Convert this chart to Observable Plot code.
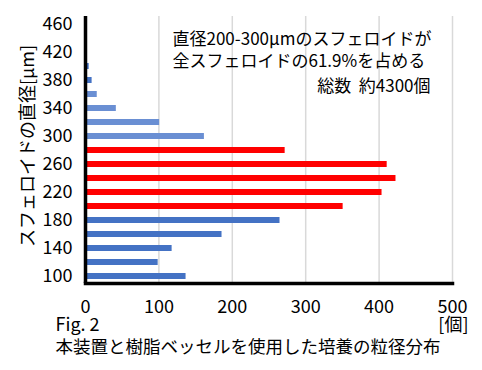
<!DOCTYPE html>
<html>
<head>
<meta charset="utf-8">
<script src="https://cdn.jsdelivr.net/npm/d3@7"></script>
<script src="https://cdn.jsdelivr.net/npm/@observablehq/plot@0.6"></script>
<style>
  html, body { margin: 0; padding: 0; background: #fff; }
</style>
</head>
<body>
<div id="chart"></div>
<script>
// Diameter classes (μm) – category axis 100..460 step 20
const diameters = [100,120,140,160,180,200,220,240,260,280,300,320,340,360,380,400,420,440,460];
// Counts per class
const counts     = [137, 99,118,186,265,351,404,423,411,272,162,101, 42, 16,  9,  5,  0,  0,  0];
// Highlight group: 200-300 μm
const highlighted = [200,220,240,260,280];
const lighter = [300,320,340,360];
const yTickLabels = [100,140,180,220,260,300,340,380,420,460];
const xTickLabels = [0,100,200,300,400,500];
const annotationLines = ["直径200-300μmのスフェロイドが", "全スフェロイドの61.9%を占める", "総数  約4300個"];
const yAxisTitle = "スフェロイドの直径[μm]";
const xUnit = "[個]";
const figLabel = "Fig. 2";
const caption = "本装置と樹脂ベッセルを使用した培養の粒径分布";

const data = diameters.map((d, i) => ({d, v: counts[i]})).filter(r => r.v > 0);
const colorOf = r => highlighted.includes(r.d) ? "#FF0000" : (lighter.includes(r.d) ? "#6A8FD3" : "#4472C4");

const FONT = "'Liberation Sans Narrow', 'Noto Sans CJK JP', sans-serif";
const JFONT = "'Noto Sans CJK JP', sans-serif";

const plot = Plot.plot({
  width: 482,
  height: 370,
  marginLeft: 85,
  marginRight: 30,
  marginTop: 16,
  marginBottom: 87,
  style: {fontFamily: FONT, fontSize: "18px", color: "#000", background: "#fff"},
  x: {domain: [0, 500], ticks: xTickLabels, label: null},
  y: {type: "band", domain: diameters.slice().reverse(), paddingInner: 0.58, paddingOuter: 0.29, label: null},
  marks: [
    Plot.gridX(xTickLabels.filter(t => t > 0), {stroke: "#d9d9d9", strokeOpacity: 1, strokeWidth: 1.5}),
    Plot.barX(data, {y: "d", x: "v", fill: colorOf}),
    Plot.axisX({ticks: xTickLabels, tickSize: 0, tickPadding: 17, fontSize: 18, label: null}),
    Plot.axisY({ticks: yTickLabels, tickSize: 0, tickPadding: 13, fontSize: 18, label: null}),
    Plot.ruleX([0], {stroke: "#000", strokeWidth: 3.5}),
    Plot.frame({anchor: "bottom", stroke: "#000", strokeWidth: 3.5}),
    Plot.text([annotationLines[0]], {frameAnchor: "top-left", dx: 87, dy: 23, lineAnchor: "middle", textAnchor: "start", fontSize: 17, fontFamily: FONT}),
    Plot.text([annotationLines[1]], {frameAnchor: "top-left", dx: 87, dy: 45.5, lineAnchor: "middle", textAnchor: "start", fontSize: 17, fontFamily: FONT}),
    Plot.text([annotationLines[2]], {frameAnchor: "top-right", dx: -22, dy: 70, lineAnchor: "middle", textAnchor: "end", fontSize: 17, fontFamily: FONT}),
    Plot.text([yAxisTitle], {frameAnchor: "left", dx: -57, dy: -4, rotate: -90, lineAnchor: "middle", textAnchor: "middle", fontSize: 18, fontFamily: JFONT}),
    Plot.text([xUnit], {frameAnchor: "bottom-right", dx: 16, dy: 42, lineAnchor: "middle", textAnchor: "end", fontSize: 18, fontFamily: JFONT}),
    Plot.text([figLabel], {frameAnchor: "bottom-left", dx: -30, dy: 42, lineAnchor: "middle", textAnchor: "start", fontSize: 18, fontFamily: JFONT}),
    Plot.text([caption], {frameAnchor: "bottom-left", dx: -30, dy: 64, lineAnchor: "middle", textAnchor: "start", fontSize: 17.5, fontFamily: JFONT})
  ]
});
document.getElementById("chart").appendChild(plot);
</script>
</body>
</html>
